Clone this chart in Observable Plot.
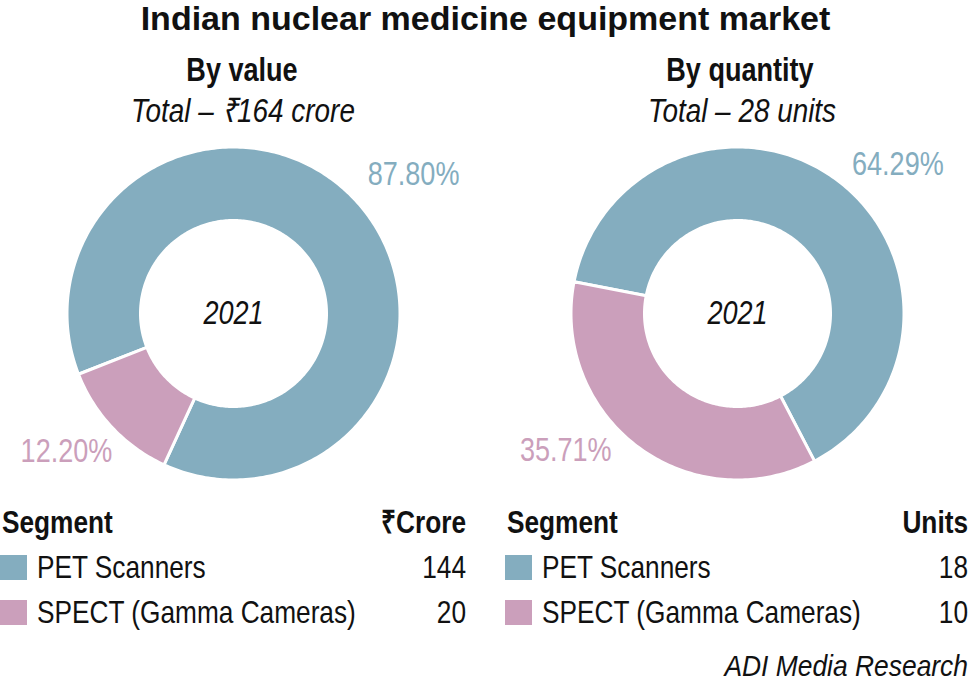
<!DOCTYPE html>
<html><head><meta charset="utf-8">
<script src="https://cdn.jsdelivr.net/npm/d3@7"></script>
<script src="https://cdn.jsdelivr.net/npm/@observablehq/plot@0.6"></script>
<style>
html,body{margin:0;padding:0;background:#fff}
body{width:971px;height:683px;position:relative;overflow:hidden;font-family:"Liberation Sans",Arimo,Arial,sans-serif;color:#111}
.t{position:absolute;white-space:nowrap;line-height:1}
.c{text-align:center;width:500px;transform:scaleX(0.82);transform-origin:50% 50%}
.l{transform:scaleX(0.82);transform-origin:0 50%}
.r{text-align:right;width:300px;transform:scaleX(0.82);transform-origin:100% 50%}
.title{left:40px;width:891px;top:1px;text-align:center;font-size:34px;font-weight:bold;transform:scaleX(1.0);transform-origin:50% 50%}
.sub{font-size:33px;font-weight:bold}
.tot{font-size:34px;font-style:italic}
.hdr{font-size:32px;font-weight:bold}
.row{font-size:32px}
.src{font-size:30px;font-style:italic;line-height:0.7;transform:scaleX(0.88)}
.sw{position:absolute;width:27px;height:25px}
.plot{position:absolute;top:0}
</style></head>
<body>
<div id="root"></div>
<script>
// ---- data ----
const chartTitle = "Indian nuclear medicine equipment market";
const segments = ["PET Scanners", "SPECT (Gamma Cameras)"];
const valueCrore = [144, 20];
const quantityUnits = [18, 10];
const shareValue = [87.80, 12.20];
const shareQuantity = [64.29, 35.71];
const centerLabel = "2021";
const panelTitles = ["By value", "By quantity"];
const panelTotals = ["Total – ₹164 crore", "Total – 28 units"];
const legendHeads = [["Segment", "₹Crore"], ["Segment", "Units"]];
const source = "ADI Media Research";
const colors = ["#84adbf", "#cb9fbb"];

// ---- layout ----
const R = 166.5, r0 = 93;
const font = '"Liberation Sans",Arimo,Arial,sans-serif';
const squeeze = 0.82;

function donut(shares, startDeg, cx, cy, W, H, labelPolar) {
  const pie = d3.pie().sort(null).value(d => d.share)
    .startAngle(startDeg * Math.PI / 180).endAngle(startDeg * Math.PI / 180 + 2 * Math.PI);
  const arcs = pie(segments.map((s, i) => ({segment: s, share: shares[i]})));
  const pts = [];
  for (const a of arcs) {
    const n = Math.max(2, Math.ceil((a.endAngle - a.startAngle) / (Math.PI / 180)));
    for (let k = 0; k <= n; k++) {
      const t = a.startAngle + (a.endAngle - a.startAngle) * k / n;
      pts.push({segment: a.data.segment, x: Math.sin(t), y: Math.cos(t)});
    }
    for (let k = n; k >= 0; k--) {
      const t = a.startAngle + (a.endAngle - a.startAngle) * k / n;
      pts.push({segment: a.data.segment, x: Math.sin(t) * r0 / R, y: Math.cos(t) * r0 / R});
    }
  }
  const labels = arcs.map((a, i) => ({
    segment: a.data.segment,
    text: shares[i].toFixed(2) + "%",
    x: Math.sin(labelPolar[i][0] * Math.PI / 180) * labelPolar[i][1],
    y: Math.cos(labelPolar[i][0] * Math.PI / 180) * labelPolar[i][1]
  }));
  const svg = Plot.plot({
    width: W, height: H, margin: 0,
    style: {fontFamily: font, background: "transparent", overflow: "visible"},
    x: {domain: [-cx / R, (W - cx) / R], axis: null},
    y: {domain: [-(H - cy) / R, cy / R], axis: null},
    color: {domain: segments, range: colors},
    marks: [
      Plot.line(pts, {x: "x", y: "y", z: "segment", fill: "segment", stroke: "white", strokeWidth: 3, curve: "linear-closed"}),
      Plot.text(labels, {x: "x", y: "y", text: "text", fill: "segment", fontSize: 33}),
      Plot.text([centerLabel], {x: () => 0, y: () => 0, text: d => d, fontSize: 33, fontStyle: "italic", fill: "#111"})
    ]
  });
  // condense text horizontally about its anchor
  svg.querySelectorAll("text").forEach(el => {
    const x = parseFloat(el.getAttribute("x") || 0);
    const T = el.getAttribute("transform") || "";
    el.setAttribute("transform", `${T} translate(${x},0) scale(${squeeze},1) translate(${-x},0)`);
  });
  return svg;
}

const root = document.getElementById("root");
function add(html) { root.insertAdjacentHTML("beforeend", html); }

add(`<div class="t title">${chartTitle}</div>`);

const panels = [
  {left: 0, cx: 233, start: -111.4, shares: shareValue, nums: valueCrore, subX: 242, totX: 243,
   legL: 0, legR: 466, labels: [[52.3, 1.367], [230.4, 1.302]]},
  {left: 486, cx: 251, start: -79, shares: shareQuantity, nums: quantityUnits, subX: 740, totX: 742,
   legL: 505, legR: 968, labels: [[47.1, 1.315], [231.4, 1.32]]}
];
panels.forEach((p, j) => {
  const svg = donut(p.shares, p.start, p.cx, 313, 485, 500, p.labels);
  svg.classList.add("plot");
  svg.style.left = p.left + "px";
  root.appendChild(svg);
  add(`<div class="t c sub" style="left:${p.subX - 250}px;top:53px">${panelTitles[j]}</div>`);
  add(`<div class="t c tot" style="left:${p.totX - 250}px;top:93px">${panelTotals[j]}</div>`);
  const textL = p.legL + 37;
  add(`<div class="t l hdr" style="left:${p.legL + 2}px;top:506px">${legendHeads[j][0]}</div>`);
  add(`<div class="t r hdr" style="left:${p.legR - 300}px;top:506px">${legendHeads[j][1]}</div>`);
  segments.forEach((s, i) => {
    const top = 551 + i * 45;
    add(`<div class="sw" style="left:${p.legL}px;top:${top + 4}px;background:${colors[i]}"></div>`);
    add(`<div class="t l row" style="left:${textL}px;top:${top}px">${s}</div>`);
    add(`<div class="t r row" style="left:${p.legR - 300}px;top:${top}px">${p.nums[i]}</div>`);
  });
});
add(`<div class="t r src" style="left:${968 - 300}px;top:655px">${source}</div>`);
</script>
</body></html>
